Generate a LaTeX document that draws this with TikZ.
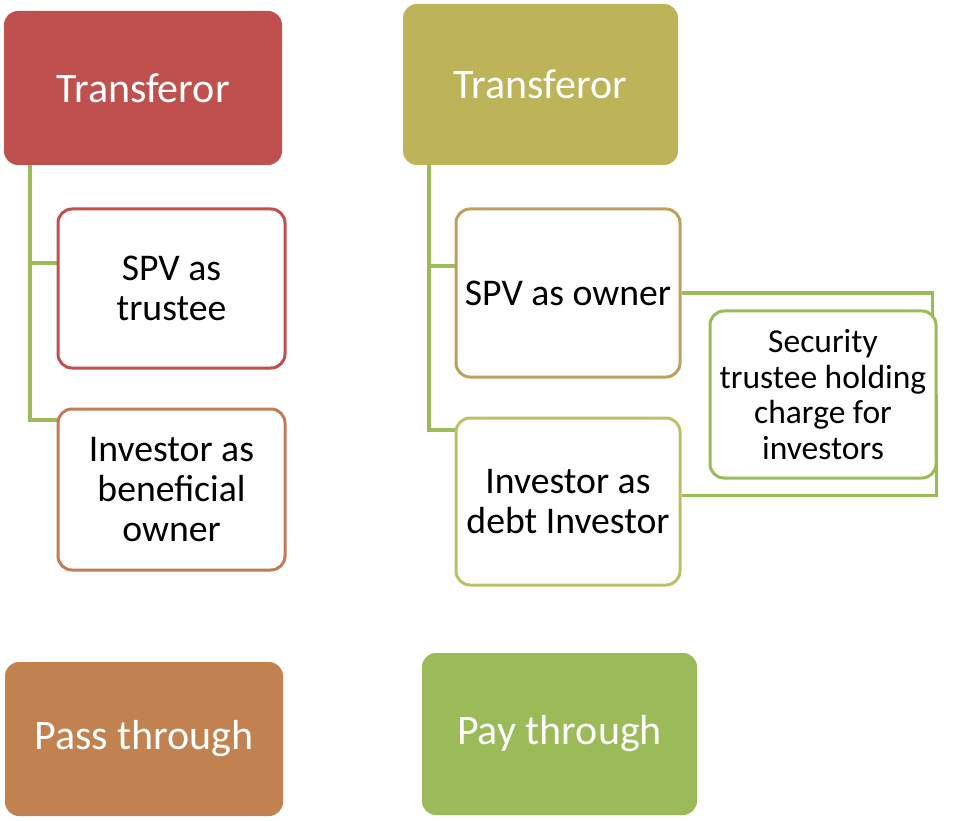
\documentclass[tikz,border=0pt]{standalone}
\usepackage{fontspec}
\setmainfont{Carlito}
\usetikzlibrary{backgrounds}

\definecolor{redhead}{HTML}{C0504D}
\definecolor{orangebox}{HTML}{C27B56}
\definecolor{passfill}{HTML}{C18150}
\definecolor{olivehead}{HTML}{BDB358}
\definecolor{tanbox}{HTML}{C09F5C}
\definecolor{limebox}{HTML}{BBC264}
\definecolor{linkgreen}{HTML}{9BBB59}

\begin{document}
\begin{tikzpicture}[x=1pt, y=-1pt,
    every node/.style={rounded corners=14pt, align=center, inner sep=0pt},
    headbox/.style={fill=#1, text=white, font=\fontsize{42}{50}\selectfont},
    subbox/.style={draw=#1, line width=3pt, fill=white, font=\fontsize{37.7}{40}\selectfont},
    link/.style={draw=linkgreen, line width=3.5pt}]
        \useasboundingbox (0,0) rectangle (954,821);

        % pass through side
        \node[headbox=redhead, minimum width=278, minimum height=154] (tl) at (143,88) {Transferor};
        \node[subbox=redhead, minimum width=227, minimum height=159] (spvt) at (171.5,288.5) {SPV as\\trustee};
        \node[subbox=orangebox, minimum width=227, minimum height=161] (invb) at (171.5,489.5) {Investor as\\beneficial\\owner};
        \node[headbox=passfill, minimum width=278, minimum height=154] (pass) at (144,739) {Pass through};

        % pay through side
        \node[headbox=olivehead, minimum width=275, minimum height=161] (tr) at (540.5,84.5) {Transferor};
        \node[subbox=tanbox, minimum width=224, minimum height=168] (spvo) at (568,293) {SPV as owner};
        \node[subbox=limebox, minimum width=224, minimum height=167] (invd) at (568,501.5) {Investor as\\debt Investor};
        \node[subbox=linkgreen, font=\fontsize{33.5}{35.5}\selectfont, minimum width=226, minimum height=167] (sec) at (823,394.5) {Security\\trustee holding\\charge for\\investors};
        \node[headbox=linkgreen, minimum width=275, minimum height=162] (pay) at (559.5,734) {Pay through};

        \begin{scope}[on background layer]
        \draw[link] ([xshift=26pt]tl.south west) |- (spvt.west |- 0,263);
        \draw[link] ([xshift=26pt]tl.south west) |- (invb.west |- 0,420);
        \draw[link] ([xshift=26pt]tr.south west) |- (spvo.west |- 0,266);
        \draw[link] ([xshift=26pt]tr.south west) |- (invd.west |- 0,430);
        \draw[link] (spvo.east) -| ([xshift=-5pt]sec.east);
        \draw[link] ([yshift=6pt]invd.east) -| ([xshift=-1pt]sec.east);
        \end{scope}
    \end{tikzpicture}
\end{document}
